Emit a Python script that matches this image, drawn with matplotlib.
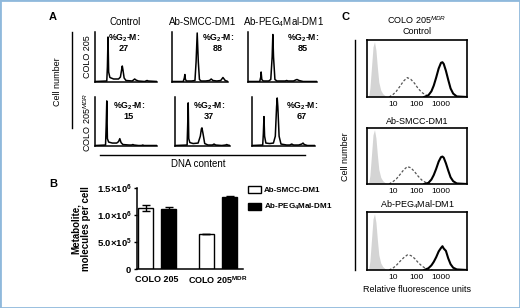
import matplotlib
matplotlib.use('Agg')
import matplotlib.pyplot as plt
from matplotlib.lines import Line2D
from matplotlib.patches import Rectangle
import numpy as np

plt.rcParams['font.family'] = ['Liberation Sans', 'DejaVu Sans']
plt.rcParams['mathtext.fontset'] = 'custom'
plt.rcParams['mathtext.rm'] = 'Liberation Sans'
plt.rcParams['mathtext.it'] = 'Liberation Sans:italic'
plt.rcParams['mathtext.bf'] = 'Liberation Sans:bold'

W, H = 520, 308

# ---- Panel A: DNA content histograms (x = relative DNA content, y = relative cell number)
dna_x = [
    [0, .19, .2, .21, .22, .24, .30, .38, .41, .43, .44, .45, .47, .50, .60, .62, .64, .66, .70, .80, .82, .84, .86, 1],
    [0, .20, .22, .23, .24, .26, .35, .41, .43, .45, .47, .49, .52, .60, .67, .70, .73, .80, .87, .91, .95, 1],
    [0, .17, .185, .19, .20, .22, .30, .33, .35, .36, .37, .39, .42, .50, .54, .56, .58, .66, .69, .71, .74, .80, 1],
    [0, .17, .18, .19, .20, .22, .28, .35, .38, .40, .42, .45, .55, .59, .61, .63, .70, .75, .77, .79, 1],
    [0, .22, .23, .24, .25, .27, .33, .42, .46, .48, .49, .51, .54, .60, .68, .71, .74, .85, .92, .94, .96, 1],
    [0, .17, .18, .19, .20, .22, .28, .34, .37, .39, .40, .41, .43, .46, .55, .60, .63, .66, .74, .79, .81, .83, .88, 1],
]
dna_y = [
    [.01, .02, .30, .90, .20, .09, .06, .06, .10, .25, .32, .25, .08, .03, .02, .04, .06, .04, .02, .01, .02, .03, .02, .01],
    [.01, .01, .08, .15, .05, .02, .02, .03, .40, .98, .40, .05, .02, .02, .03, .06, .03, .02, .03, .09, .03, .01],
    [.01, .01, .10, .20, .05, .02, .02, .05, .50, .95, .50, .05, .02, .02, .02, .03, .02, .02, .04, .05, .03, .01, .01],
    [.01, .02, .40, .92, .15, .08, .06, .06, .09, .15, .07, .03, .02, .02, .03, .02, .01, .01, .02, .01, .01],
    [.01, .02, .40, .88, .15, .07, .05, .06, .20, .35, .37, .25, .05, .02, .02, .04, .02, .01, .02, .03, .02, .01],
    [.01, .02, .25, .60, .20, .06, .05, .06, .20, .80, .98, .80, .20, .04, .02, .02, .04, .02, .02, .04, .06, .03, .01, .01],
]
g2m = [27, 88, 85, 15, 37, 67]
treatments = ["Control", "Ab-SMCC-DM1", "Ab-PEG$_4$Mal-DM1"]
cell_lines = ["COLO 205", "COLO 205$^{MDR}$"]

# ---- Panel B: metabolite per cell
groups = ["COLO 205", r"COLO 205$^{\mathbf{MDR}}$"]
smcc_vals = [1.13e6, 0.65e6]
smcc_err = [0.05e6, 0.005e6]
peg_vals = [1.12e6, 1.34e6]
peg_err = [0.035e6, 0.01e6]

# ---- Panel C: flow cytometry (relative fluorescence units)
gray_x = [1.0, 1.12, 1.32, 1.51, 1.74, 2.0, 2.29, 2.63, 3.16, 3.8, 4.57, 5.6, 7.1]
gray_y = [0.02, 0.15, 0.55, 0.88, 0.97, 0.82, 0.52, 0.26, 0.12, 0.06, 0.03, 0.01, 0.0]
dot_x = [7, 10, 14, 20, 28, 40, 56, 80, 112, 160, 225, 320, 450]
dot_y = [
    [0.0, 0.04, 0.10, 0.19, 0.28, 0.34, 0.31, 0.24, 0.15, 0.08, 0.04, 0.01, 0.0],
    [0.0, 0.04, 0.09, 0.17, 0.25, 0.31, 0.29, 0.22, 0.14, 0.07, 0.03, 0.01, 0.0],
    [0.0, 0.03, 0.08, 0.15, 0.21, 0.26, 0.25, 0.20, 0.13, 0.07, 0.03, 0.01, 0.0],
]
solid_x = [200, 300, 400, 500, 630, 800, 1000, 1150, 1300, 1600, 2000, 2500, 3200, 4500, 12000]
solid_y = [
    [0, .03, .10, .20, .34, .50, .60, .61, .58, .46, .30, .15, .06, .01, 0],
    [0, .02, .08, .16, .27, .40, .48, .49, .47, .37, .24, .12, .05, .01, 0],
    [0, .03, .08, .14, .22, .32, .38, .41, .37, .33, .20, .10, .04, .01, 0],
]
flow_titles = ["Control", "Ab-SMCC-DM1", "Ab-PEG$_4$Mal-DM1"]


def box(x0, y0, x1, y1):
    return [x0 / W, 1 - y1 / H, (x1 - x0) / W, (y1 - y0) / H]


def ftext(x, y, s, **kw):
    kw.setdefault('ha', 'center')
    kw.setdefault('va', 'center')
    fig.text(x / W, 1 - y / H, s, **kw)


def fline(xs, ys, lw=1.0):
    fig.add_artist(Line2D([x / W for x in xs], [1 - y / H for y in ys],
                          transform=fig.transFigure, color='black', lw=lw))


fig = plt.figure(figsize=(5.2, 3.08), dpi=100)

# ---------------- A ----------------
a_boxes = [(95, 32, 157, 82), (172, 32, 228, 82), (248, 32, 317, 82),
           (95, 97, 157, 146), (175, 97, 230, 146), (252, 97, 315, 146)]
a_text = [(124, 40), (218, 40), (303, 40), (129, 108), (209, 108), (302, 108)]
for i, b in enumerate(a_boxes):
    ax = fig.add_axes(box(*b))
    ax.plot(dna_x[i], dna_y[i], color='black', lw=1.1)
    ax.set_xlim(0, 1)
    ax.set_ylim(0, 1.0)
    for s in ['top', 'right']:
        ax.spines[s].set_visible(False)
    for s in ['left', 'bottom']:
        ax.spines[s].set_linewidth(1.1)
    ax.set_xticks([])
    ax.set_yticks([])
    tx, ty = a_text[i]
    ftext(tx, ty - 2, r"%G$_\mathbf{2}$-M:", fontsize=6.2, fontweight='bold')
    ftext(tx, ty + 8.5, str(g2m[i]), fontsize=6.6, fontweight='bold')

ftext(53, 17, "A", fontsize=8, fontweight='bold')
for x, t in zip([125, 203, 283], treatments):
    ftext(x, 22, t, fontsize=7)
ftext(87, 57, cell_lines[0], fontsize=6.5, rotation=90)
ftext(87, 122, cell_lines[1], fontsize=6.5, rotation=90)
ftext(58, 82, "Cell number", fontsize=6.5, rotation=90)
fline([72, 72], [32, 128])
fline([100, 305], [155, 155])
ftext(198, 164, "DNA content", fontsize=7)

# ---------------- B ----------------
axb = fig.add_axes(box(137, 188, 243, 269))
xpos = np.arange(len(groups))
bw = 0.25
axb.bar(xpos - 0.19, smcc_vals, bw, yerr=smcc_err, color='white', edgecolor='black',
        lw=1.0, capsize=3, error_kw=dict(lw=1, capthick=1), label="Ab-SMCC-DM1")
axb.bar(xpos + 0.19, peg_vals, bw, yerr=peg_err, color='black', edgecolor='black',
        lw=1.0, capsize=3, error_kw=dict(lw=1, capthick=1), label="Ab-PEG$_\\mathbf{4}$Mal-DM1")
axb.set_xlim(-0.33, 1.41)
axb.set_ylim(0, 1.5e6)
axb.set_yticks([0, 0.5e6, 1.0e6, 1.5e6])
axb.set_yticklabels([r"$\mathbf{0}$", r"$\mathbf{5.0×10^{5}}$", r"$\mathbf{1.0×10^{6}}$", r"$\mathbf{1.5×10^{6}}$"],
                    fontsize=6.8)
axb.set_xticks(xpos)
axb.set_xticklabels(groups, fontsize=6.5, fontweight='bold')
for s in ['top', 'right']:
    axb.spines[s].set_visible(False)
for s in ['left', 'bottom']:
    axb.spines[s].set_linewidth(1.1)
axb.tick_params(axis='both', length=2.5, width=1, pad=1.5)
axb.tick_params(axis='x', length=0, pad=4)
axb.set_ylabel("Metabolite,\nmolecules per cell", fontsize=7, fontweight='bold', labelpad=4,
               linespacing=1.05)
leg = axb.legend(loc='upper left', bbox_to_anchor=(1.02, 1.07), frameon=False,
                 prop=dict(size=5.8, weight='bold'), handlelength=1.6, handleheight=1.1,
                 labelspacing=1.0, handletextpad=0.3, borderaxespad=0)
ftext(53, 184, "B", fontsize=8, fontweight='bold')

# ---------------- C ----------------
c_boxes = [(367, 40, 467, 97), (367, 128, 467, 184), (367, 212, 467, 270)]
c_title_y = [31, 122, 205]
for i, b in enumerate(c_boxes):
    ax = fig.add_axes(box(*b))
    ax.set_xscale('log')
    ax.fill_between(gray_x, gray_y, color='#d4d4d4', lw=0)
    ax.plot(dot_x, dot_y[i], color='#555555', lw=0.9, ls=(0, (2, 1.5)))
    ax.plot(solid_x, solid_y[i], color='black', lw=1.5)
    ax.set_xlim(0.85, 12000)
    ax.set_ylim(0, 1.0)
    ax.set_yticks([])
    ax.set_xticks([10, 100, 1000])
    ax.set_xticklabels(["10", "100", "1000"], fontsize=6)
    ax.xaxis.set_minor_locator(matplotlib.ticker.NullLocator())
    ax.tick_params(axis='x', length=0, pad=3)
    for s in ax.spines.values():
        s.set_linewidth(1.2)
    ftext(417, c_title_y[i], flow_titles[i], fontsize=6.5)

ftext(345, 17, "C", fontsize=8, fontweight='bold')
ftext(417, 20, "COLO 205$^{MDR}$", fontsize=6.5)
ftext(417, 289, "Relative fluorescence units", fontsize=6.5)
ftext(345, 157, "Cell number", fontsize=6.5, rotation=90)
fline([355, 355], [40, 270])

# light blue frame
fig.add_artist(Rectangle((0, 0), 1, 1, transform=fig.transFigure, fill=False,
                         edgecolor='#8fb9dc', lw=2))

plt.savefig("out.png", dpi=100)
plt.close()
